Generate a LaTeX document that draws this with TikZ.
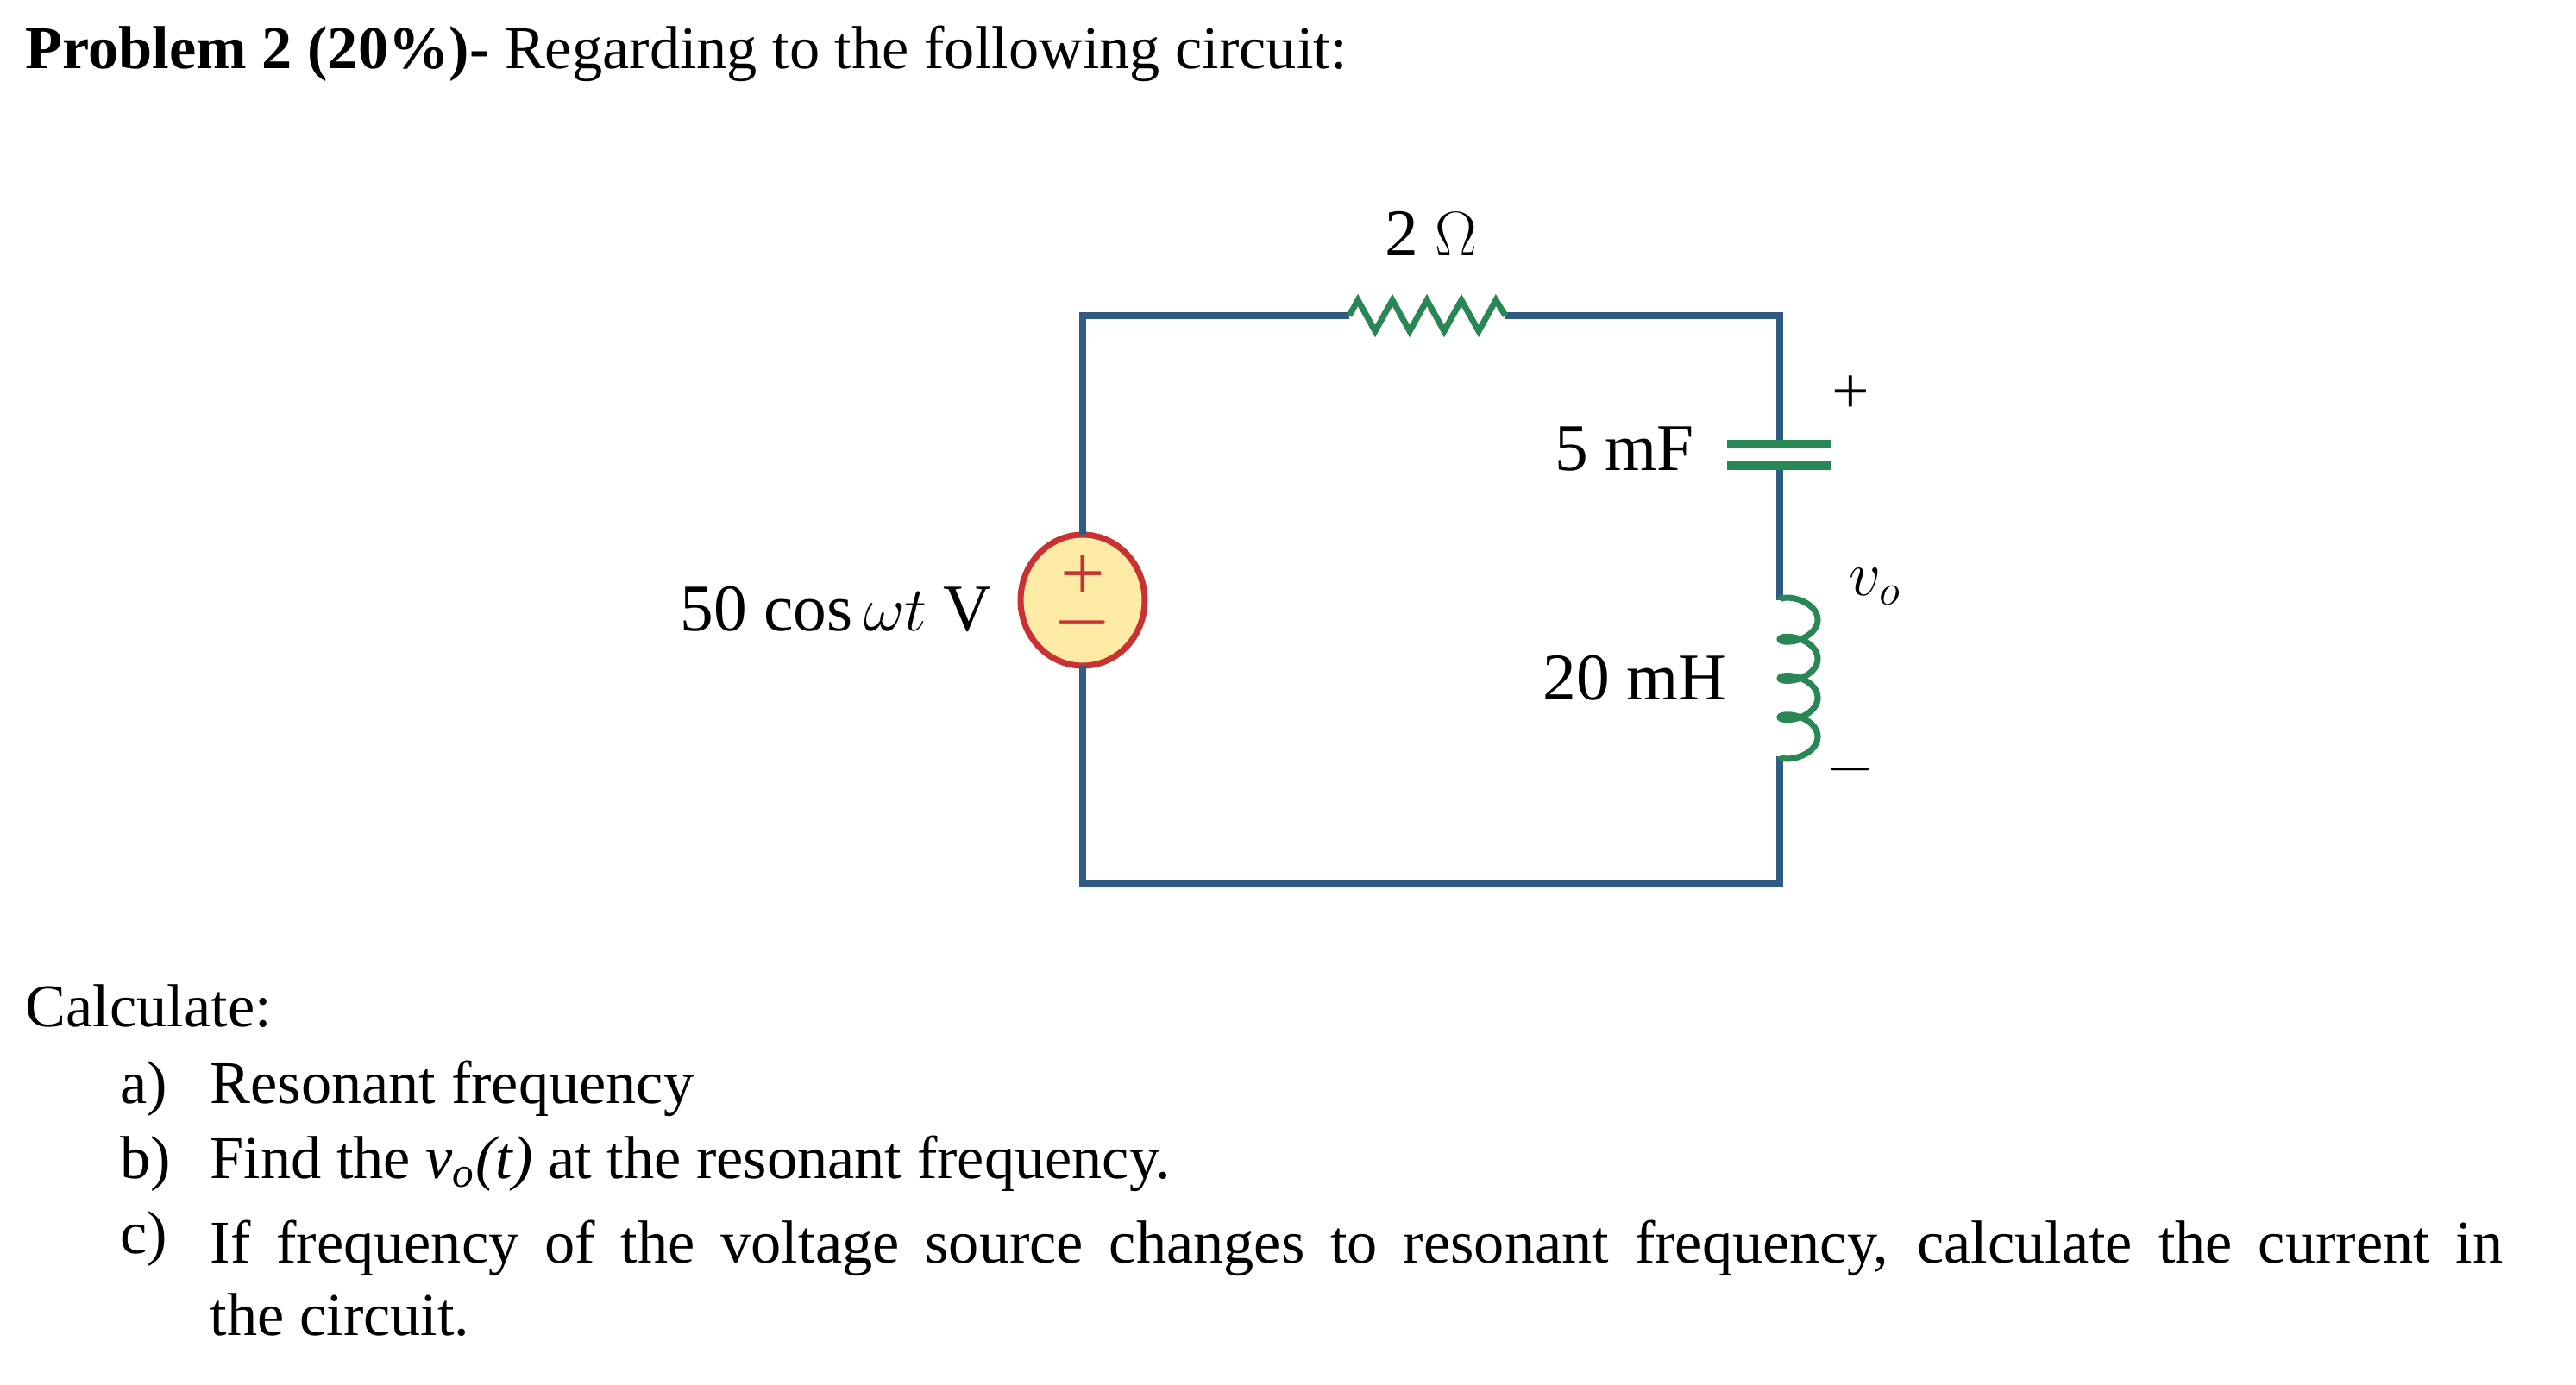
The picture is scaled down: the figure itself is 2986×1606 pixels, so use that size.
\documentclass[tikz,border=0pt]{standalone}
\usepackage{fontspec}
\setmainfont{Liberation Serif}
\usetikzlibrary{positioning}
\definecolor{wireblue}{RGB}{48,92,132}
\definecolor{partgreen}{RGB}{40,135,85}
\definecolor{srcred}{RGB}{200,50,50}
\definecolor{srcfill}{RGB}{253,234,165}
\tikzset{
wire/.style={wireblue, line width=2.4pt},
part/.style={partgreen, line width=2pt},
label/.style={inner sep=0pt, font=\fontsize{22}{26}\selectfont},
body/.style={inner sep=0pt, anchor=base west, font=\fontsize{20}{24}\selectfont},
}

\begin{document}
\begin{tikzpicture}[x=0.01cm, y=-0.01cm]
	\useasboundingbox (0,0) rectangle (2986,1606);
	% corners of the loop
	\coordinate (tl) at (1255,366);
	\coordinate (tr) at (2063,366);
	\coordinate (bl) at (1255,1024);
	\coordinate (br) at (2063,1024);
	\coordinate (r1) at (1564,366);
	\coordinate (r2) at (1745,366);
	\coordinate (c1) at (2063,515);
	\coordinate (c2) at (2063,540);
	\coordinate (l1) at (2063,696);
	\coordinate (l2) at (2063,877);
	
	% source
	\draw[draw=srcred, fill=srcfill, line width=2pt] (1255,696) ellipse (72 and 76);
	\coordinate (s1) at (1255,620);
	\coordinate (s2) at (1255,772);
	\node[srcred, inner sep=0pt, font=\fontsize{26}{26}\selectfont] (sp) at (1255,670) {+};
	\node[srcred, inner sep=0pt, font=\fontsize{26}{26}\selectfont] (sm) at (1255,722) {$-$};
	
	% wires
	\draw[wire] (s1) -- (tl) -- (r1);
	\draw[wire] (r2) -- (tr) -- (c1);
	\draw[wire] (c2) -- (l1);
	\draw[wire] (l2) -- (br) -- (bl) -- (s2);
	
	% resistor
	\draw[part] (r1) -- ++(10,-18) -- ++(20,36) -- ++(20,-36) -- ++(20,36)
		-- ++(20,-36) -- ++(20,36) -- ++(20,-36) -- ++(20,36) -- ++(20,-36) -- ++(11,18) -- (r2);
	
	% capacitor
	\draw[part, line width=3pt] (2002,515) -- (2122,515);
	\draw[part, line width=3pt] (2002,540) -- (2122,540);
	
	% inductor
	\draw[part] plot[domain=0:1440, samples=240, smooth]
		({2085-22*cos(\x)}, {696+7.2*rad(\x)-12*sin(\x)});
	
	% labels
	\node[label] (rlab) at (1659,271) {2 $\Omega$};
	\node[label, anchor=east] (clab) at (1964,521) {5 mF};
	\node[label, anchor=east] (llab) at (2002,786) {20 mH};
	\node[label, anchor=east] (slab) at (1150,706) {50 cos\,$\omega t$ V};
	\node[label] (vp) at (2145,458) {+};
	\node[label] (vo) at (2174,680) {$v_o$};
	\node[label] (vm) at (2145,892) {$-$};
	
	% text
	\node[body] (title) at (29,80) {\textbf{Problem 2 (20\%)-} Regarding to the following circuit:};
	\node[body] (calc) at (29,1190) {Calculate:};
	\node[body] (qa) at (139,1279) {a)};
	\node[body] (qb) at (139,1366) {b)};
	\node[body] (qc) at (139,1453) {c)};
	\node[body] (ta) at (243,1279) {Resonant frequency};
	\node[body] (tb) at (243,1366) {Find the \textit{v\textsubscript{o}(t)} at the resonant frequency.};
	\node[body, anchor=north west, text width=26.56cm, align=justify] (tc) at (243,1414)
		{If frequency of the voltage source changes to resonant frequency, calculate the current in\linebreak the circuit.};
\end{tikzpicture}
\end{document}
